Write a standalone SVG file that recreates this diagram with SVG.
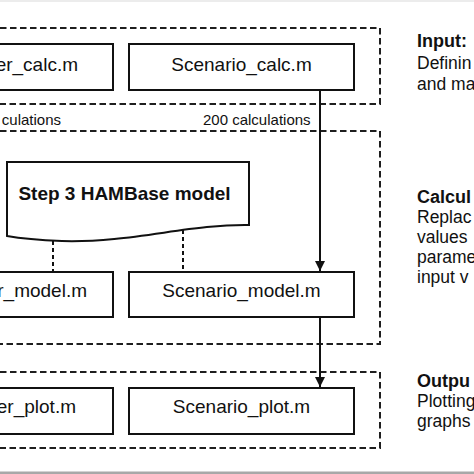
<svg xmlns="http://www.w3.org/2000/svg" width="474" height="474" viewBox="0 0 474 474">
<style>
.bg{fill:#ffffff}
.grp{fill:none;stroke:#1e1e1e;stroke-width:2;stroke-dasharray:6.5,3.5}
.box{fill:#ffffff;stroke:#111;stroke-width:2}
.t{font-family:"Liberation Sans",Arial,sans-serif;font-size:19px;fill:#111}
.s{font-family:"Liberation Sans",Arial,sans-serif;font-size:15px;fill:#111}
.r{font-family:"Liberation Sans",Arial,sans-serif;font-size:17.5px;fill:#111}
.rb{font-family:"Liberation Sans",Arial,sans-serif;font-size:18px;font-weight:bold;fill:#111}
.b{font-family:"Liberation Sans",Arial,sans-serif;font-size:19px;font-weight:bold;fill:#111}
.arr{fill:none;stroke:#111;stroke-width:2}
.dsh{fill:none;stroke:#111;stroke-width:2;stroke-dasharray:4,3}
</style>
<defs>
<marker id="ah" markerUnits="userSpaceOnUse" markerWidth="12" markerHeight="12" viewBox="0 0 12 12" refX="10" refY="6" orient="auto">
<path d="M0,1 L10,6 L0,11 Z" fill="#111"/>
</marker>
</defs>
<rect class="bg" x="0" y="0" width="474" height="474"/>
<rect x="0" y="0" width="474" height="2" fill="#ececec"/>
<rect x="0" y="471.5" width="474" height="2.5" fill="#a8a8a8"/>

<g id="group-input">
<rect class="grp" x="-10" y="28" width="390" height="76"/>
</g>
<g id="group-calc">
<rect class="grp" x="-10" y="131" width="390" height="213"/>
</g>
<g id="group-output">
<rect class="grp" x="-10" y="372" width="390" height="76"/>
</g>

<g id="connectors">
<line class="arr" x1="320" y1="90" x2="320" y2="271" marker-end="url(#ah)"/>
<line class="arr" x1="320" y1="317" x2="320" y2="387" marker-end="url(#ah)"/>
<line class="dsh" x1="53" y1="241" x2="53" y2="272"/>
<line class="dsh" x1="183" y1="230" x2="183" y2="272"/>
</g>

<g id="param-calc">
<rect class="box" x="-10" y="44" width="123" height="46"/>
<text class="t" x="78" y="71" text-anchor="end">er_calc.m</text>
</g>
<g id="scenario-calc">
<rect class="box" x="129" y="44" width="225" height="46"/>
<text class="t" x="241.5" y="71" text-anchor="middle">Scenario_calc.m</text>
</g>

<g id="label-left-calcs">
<text class="s" x="61" y="125" text-anchor="end">culations</text>
</g>
<g id="label-200-calcs">
<text class="s" x="203" y="125">200 calculations</text>
</g>

<g id="hambase">
<path class="box" d="M7,162 H249 V225 C190,224 130,243 62,241 C35,240 18,238 7,236 Z"/>
<text class="b" x="124.5" y="200" text-anchor="middle">Step 3 HAMBase model</text>
</g>

<g id="param-model">
<rect class="box" x="-10" y="272" width="123" height="45"/>
<text class="t" x="87" y="297" text-anchor="end">r_model.m</text>
</g>
<g id="scenario-model">
<rect class="box" x="129" y="272" width="225" height="45"/>
<text class="t" x="241.5" y="297" text-anchor="middle">Scenario_model.m</text>
</g>

<g id="param-plot">
<rect class="box" x="-10" y="388" width="123" height="46"/>
<text class="t" x="76" y="413" text-anchor="end">er_plot.m</text>
</g>
<g id="scenario-plot">
<rect class="box" x="129" y="388" width="225" height="46"/>
<text class="t" x="241.5" y="413" text-anchor="middle">Scenario_plot.m</text>
</g>

<g id="desc-input">
<text class="rb" x="417" y="47">Input:</text>
<text class="r" x="417" y="69">Definin</text>
<text class="r" x="417" y="90">and ma</text>
</g>
<g id="desc-calc">
<text class="rb" x="417" y="203">Calcul</text>
<text class="r" x="417" y="223">Replac</text>
<text class="r" x="417" y="243">values</text>
<text class="r" x="417" y="263">parame</text>
<text class="r" x="417" y="283">input v</text>
</g>
<g id="desc-output">
<text class="rb" x="417" y="387">Outpu</text>
<text class="r" x="417" y="407">Plotting</text>
<text class="r" x="417" y="427">graphs</text>
</g>
</svg>
